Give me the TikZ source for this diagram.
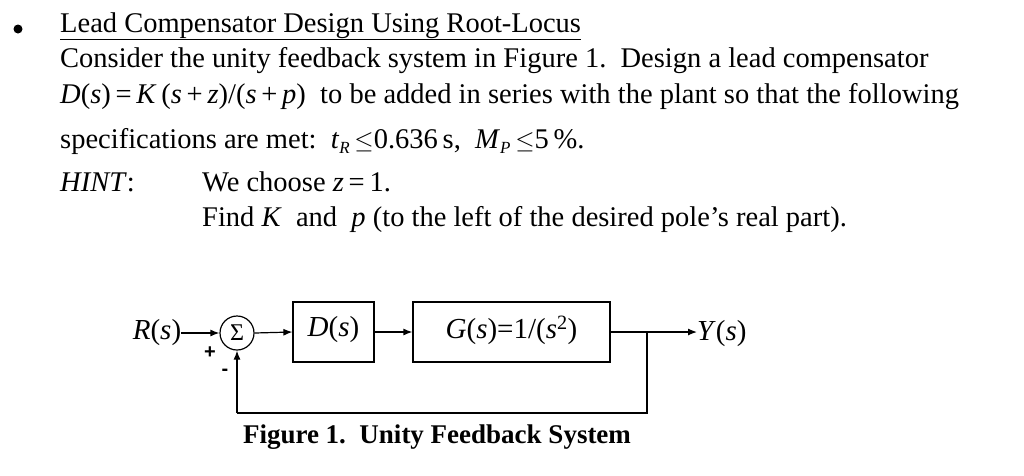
\documentclass[tikz,border=0pt]{standalone}
\usepackage{fontspec}
\setmainfont{Liberation Serif}
\newfontfamily\hsans{Liberation Sans}
\usetikzlibrary{arrows.meta}
\begin{document}
\begin{tikzpicture}[x=1pt,y=-1pt,
  txt/.style={anchor=base west,inner sep=0pt,font=\fontsize{28.5}{32}\selectfont},
  blk/.style={draw,line width=1.2pt,minimum height=60pt},
  lab/.style={inner sep=0pt,font=\fontsize{29}{32}\selectfont},
  ar/.style={line width=1.2pt,-{Latex[length=9pt,width=7pt]}}]
\useasboundingbox (0,0) rectangle (1024,475);
\node[inner sep=0pt,fill,circle,minimum size=9pt] (b) at (18,29) {};
\node[txt] (l1) at (60,32) {\underline{Lead Compensator Design Using Root-Locus}};
\node[txt] (l2) at (60,67) {Consider the unity feedback system in Figure 1.\ \ Design a lead compensator};
\node[txt] (l3) at (60,103) {\textit{D}(\textit{s})\,=\,\textit{K}\,(\textit{s}\,+\,\textit{z})/(\textit{s}\,+\,\textit{p})\ \ to be added in series with the plant so that the following};
\node[txt] (l4) at (60,148) {specifications are met:\ \ \textit{t}\raisebox{-5pt}{\fontsize{17}{17}\selectfont\textit{R}}\,$\le$0.636\,s,\ \ \textit{M}\raisebox{-5pt}{\fontsize{17}{17}\selectfont\textit{P}}\,$\le$5\,\%.};
\node[txt] (h) at (60,191) {\textit{HINT}:};
\node[txt] (h1) at (202,191) {We choose \textit{z}\,=\,1.};
\node[txt] (h2) at (202,226) {Find \textit{K}\ \ and\ \ \textit{p} (to the left of the desired pole’s real part).};

\node[lab] (r) at (157,333) {\textit{R}(\textit{s})};
\node[draw,circle,line width=1.2pt,minimum size=34pt,inner sep=0pt,font=\fontsize{24}{26}\selectfont] (sum) at (237,333) {Σ};
\node[blk,minimum width=81pt] (d) at (333.5,332) {};
\node[lab] (dl) at ([yshift=2pt]d.center) {\textit{D}(\textit{s})};
\node[blk,minimum width=197pt] (g) at (511.5,332) {};
\node[lab] (gl) at ([yshift=2pt]g.center) {\textit{G}(\textit{s})=1/(\textit{s}\textsuperscript{2})};
\node[lab,anchor=west] (y) at (697,334) {\textit{Y}(\textit{s})};
\coordinate (br) at (647,332);
\coordinate (bot) at (647,413);
\coordinate (botl) at (237,413);
\draw[ar] (r.east|-sum) -- (sum.west);
\draw[ar] (sum.east) -- (d.west);
\draw[ar] (d.east) -- (g.west);
\draw[ar] (g.east) -- (y.west|-g);
\draw[line width=1.2pt] (br) -- (bot) -- (botl);
\draw[ar] (botl) -- (sum.south);
\node[font=\hsans\fontsize{20}{20}\selectfont\bfseries] (plus) at (210,353) {+};
\node[font=\hsans\fontsize{20}{20}\selectfont\bfseries] (minus) at (225,372) {-};
\node[font=\fontsize{27}{30}\selectfont\bfseries] (cap) at (437,437) {Figure 1.\ \ Unity Feedback System};
\end{tikzpicture}
\end{document}
